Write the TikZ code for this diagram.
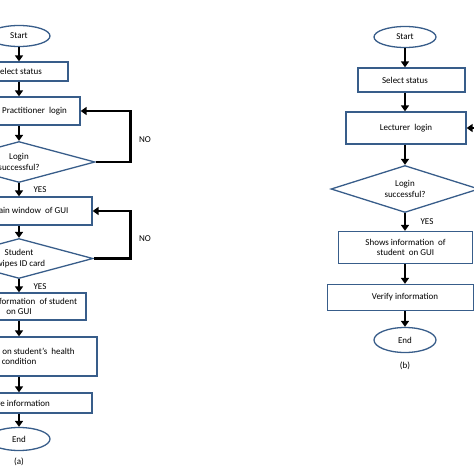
\documentclass[tikz,border=0pt]{standalone}
\usepackage{fontspec}
\setmainfont{Carlito}
\usetikzlibrary{shapes.geometric,arrows.meta}
\definecolor{boxblue}{RGB}{56,93,138}
\begin{document}
\begin{tikzpicture}[x=1pt,y=-1pt,
	font=\fontsize{9}{10.5}\selectfont,
	proc/.style={draw=boxblue,line width=1.3pt,fill=white,inner sep=0pt,align=center},
	term/.style={ellipse,draw=boxblue,line width=1.3pt,inner sep=0pt,minimum width=62pt,minimum height=21pt},
	decide/.style={diamond,draw=boxblue,line width=1.3pt,inner sep=0pt,align=center,shape aspect=3.5},
	arr/.style={line width=2.5pt,-{Triangle[length=6pt,width=8pt]}}]
				\useasboundingbox (0,0) rectangle (474,474);
				\clip (0,0) rectangle (474,474);
				% (a) left chart
				\node[term] (start) at (19,36) {Start};
				\node[proc,minimum width=98pt,minimum height=19pt] (sel) at (19,71.5) {Select status};
				\node[proc,minimum width=122pt,minimum height=28pt] (prac) at (19,111) {Medical Practitioner\ \ login};
				\node[decide,minimum width=152pt,minimum height=41pt] (dlog) at (19,162) {Login\\successful?};
				\node[proc,minimum width=146pt,minimum height=28pt] (mainw) at (19,211) {Open main window\ \ of GUI};
				\node[decide,minimum width=148pt,minimum height=40pt] (swipe) at (19,258.5) {Student\\swipes ID card};
				\node[proc,minimum width=134pt,minimum height=27pt] (info) at (19,306.5) {\hspace*{6pt}Shows information\ \ of student\\on GUI};
				\node[proc,minimum width=156pt,minimum height=39pt] (health) at (19,356.5) {\hspace*{39pt}on student's\ \ health\\condition};
				\node[proc,minimum width=146pt,minimum height=20pt] (save) at (19,403) {Save information};
				\node[term,minimum height=23pt] (end) at (19,439) {End};
				\node (capa) at (19,462) {(a)};
				% main flow
				\draw[arr] (start) -- (sel);
				\draw[arr] (sel) -- (prac);
				\draw[arr] (prac) -- (dlog);
				\draw[arr] (dlog) -- (mainw);
				\draw[arr] (mainw) -- (swipe);
				\draw[arr] (swipe) -- (info);
				\draw[arr] (info) -- (health);
				\draw[arr] (health) -- (save);
				\draw[arr] (save) -- (end);
				% NO loops
				\draw[arr] (dlog.east) -- ++(35,0) |- (prac.east);
				\draw[arr] (swipe.east) -- ++(37,0) |- (mainw.east);
				\node (noa) at (145,140) {NO};
				\node (nob) at (145,239) {NO};
				\node (yesa) at (40,190) {YES};
				\node (yesb) at (40,287) {YES};
				% (b) right chart
				\node[term] (startb) at (405,37) {Start};
				\node[proc,minimum width=107pt,minimum height=24pt] (selb) at (411.5,80) {\hspace*{-13pt}Select status};
				\node[proc,minimum width=120pt,minimum height=32pt] (lect) at (406,128) {Lecturer\ \ login};
				\node[decide,minimum width=148pt,minimum height=47pt] (dlogb) at (405,189) {Login\\successful?};
				\node[proc,minimum width=134pt,minimum height=32pt] (infob) at (405.5,247.5) {Shows information\ \ of\\student\ \ on GUI};
				\node[proc,minimum width=146pt,minimum height=26pt] (verb) at (400.5,297.5) {\hspace*{9pt}Verify information};
				\node[term,minimum height=25pt] (endb) at (405,340) {End};
				\node (capb) at (405,366) {(b)};
				\coordinate (backb) at (482,128);
				\draw[arr] (startb.south) -- (startb.south |- selb.north);
				\draw[arr] (startb.south |- selb.south) -- (startb.south |- lect.north);
				\draw[arr] (startb.south |- lect.south) -- (dlogb.north);
				\draw[arr] (dlogb.south) -- (dlogb.south |- infob.north);
				\draw[arr] (dlogb.south |- infob.south) -- (dlogb.south |- verb.north);
				\draw[arr] (dlogb.south |- verb.south) -- (endb.north);
				\draw[arr] (backb) -- (lect.east);
				\node (yesc) at (427,222) {YES};
\end{tikzpicture}
\end{document}
